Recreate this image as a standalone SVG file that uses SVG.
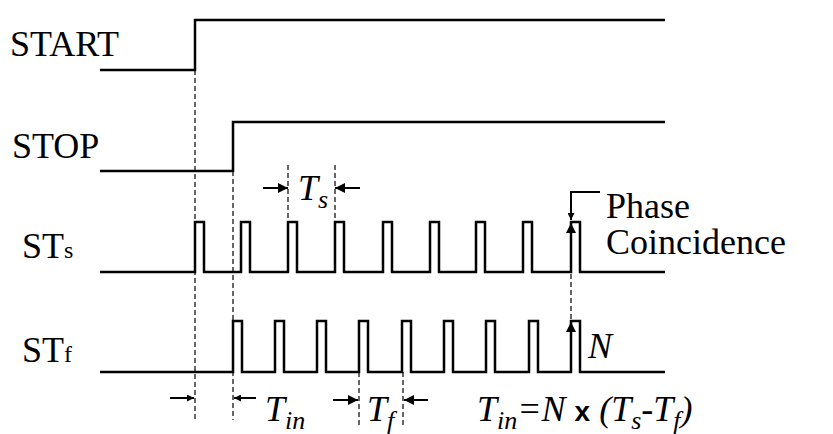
<svg xmlns="http://www.w3.org/2000/svg" width="833" height="434" viewBox="0 0 833 434" font-family="Liberation Serif, DejaVu Serif, serif">
<style>
.sig{fill:none;stroke:#000;stroke-width:2.5}
.dash{fill:none;stroke:#000;stroke-width:1.2;stroke-dasharray:5,3}
.arr{fill:none;stroke:#000;stroke-width:2}
.t{font-size:36px;fill:#000}
.i{font-style:italic;font-size:36px;fill:#000}
</style>
<defs>
<marker id="ah" viewBox="0 0 10 10" refX="10" refY="5" markerWidth="5" markerHeight="5" orient="auto"><path d="M0,0 L10,5 L0,10 z" fill="#000"/></marker>
<marker id="ah2" viewBox="0 0 10 10" refX="10" refY="5" markerWidth="7" markerHeight="7" markerUnits="userSpaceOnUse" orient="auto"><path d="M0,0 L10,5 L0,10 z" fill="#000"/></marker>
</defs>
<rect width="833" height="434" fill="#fff"/>
<g id="start"><path class="sig" d="M100,70 H195 V20 H665"/><text class="t" font-family="Liberation Serif, serif" x="10" y="56">START</text></g>
<g id="stop"><path class="sig" d="M100,171 H233 V122 H665"/><text class="t" font-family="Liberation Serif, serif" x="12" y="158">STOP</text></g>
<g id="sts"><path class="sig" d="M100,272 H195 V222 H204 V272 H241 V222 H250 V272 H288 V222 H297 V272 H335 V222 H344 V272 H383 V222 H392 V272 H430 V222 H439 V272 H476 V222 H485 V272 H523 V222 H532 V272 H571 V222 H580 V272 H665"/><text class="t" font-family="Liberation Serif, serif" x="22" y="258">ST<tspan font-size="24">s</tspan></text></g>
<g id="stf"><path class="sig" d="M100,372 H233 V321 H242 V372 H275 V321 H284 V372 H317 V321 H326 V372 H359 V321 H368 V372 H402 V321 H411 V372 H444 V321 H453 V372 H486 V321 H495 V372 H529 V321 H538 V372 H571 V321 H580 V372 H665"/><text class="t" font-family="Liberation Serif, serif" x="22" y="362">ST<tspan font-size="24">f</tspan></text></g>
<g id="connectors">
<path class="dash" d="M195,70 V420 M233,171 V420 M288,165 V222 M335,165 V222 M359,372 V425 M403,372 V425 M571,226 V321"/>
<path class="arr" marker-end="url(#ah)" d="M263,188 H288"/>
<path class="arr" marker-end="url(#ah)" d="M360,188 H335"/>
<path class="arr" marker-end="url(#ah2)" d="M170,398 H194"/>
<path class="arr" marker-end="url(#ah2)" d="M256,398 H234"/>
<path class="arr" marker-end="url(#ah)" d="M333,400 H358"/>
<path class="arr" marker-end="url(#ah)" d="M428,400 H404"/>
<path class="arr" marker-end="url(#ah2)" d="M600,192 H571 V220"/>
<path class="arr" marker-end="url(#ah)" d="M571,242 V223"/>
<path class="arr" marker-end="url(#ah)" d="M571,342 V322"/>
</g>
<g id="labels" font-family="Liberation Serif, serif">
<text class="i" x="298" y="200">T<tspan font-size="26" dy="8">s</tspan></text>
<text class="i" x="265" y="421">T<tspan font-size="26" dy="8">in</tspan></text>
<text class="i" x="367" y="421">T<tspan font-size="26" dy="8">f</tspan></text>
<text class="i" x="588" y="358">N</text>
<text class="t" font-size="34" x="606" y="218">Phase</text>
<text class="t" font-size="34" x="606" y="254">Coincidence</text>
<text class="i" x="477" y="421">T<tspan font-size="26" dy="8">in</tspan><tspan dy="-8">=N </tspan><tspan font-style="normal" font-family="Liberation Sans, sans-serif" font-weight="bold" font-size="28">x</tspan><tspan> (T</tspan><tspan font-size="26" dy="8">s</tspan><tspan dy="-8">-T</tspan><tspan font-size="26" dy="8">f</tspan><tspan dy="-8">)</tspan></text>
</g>
</svg>
